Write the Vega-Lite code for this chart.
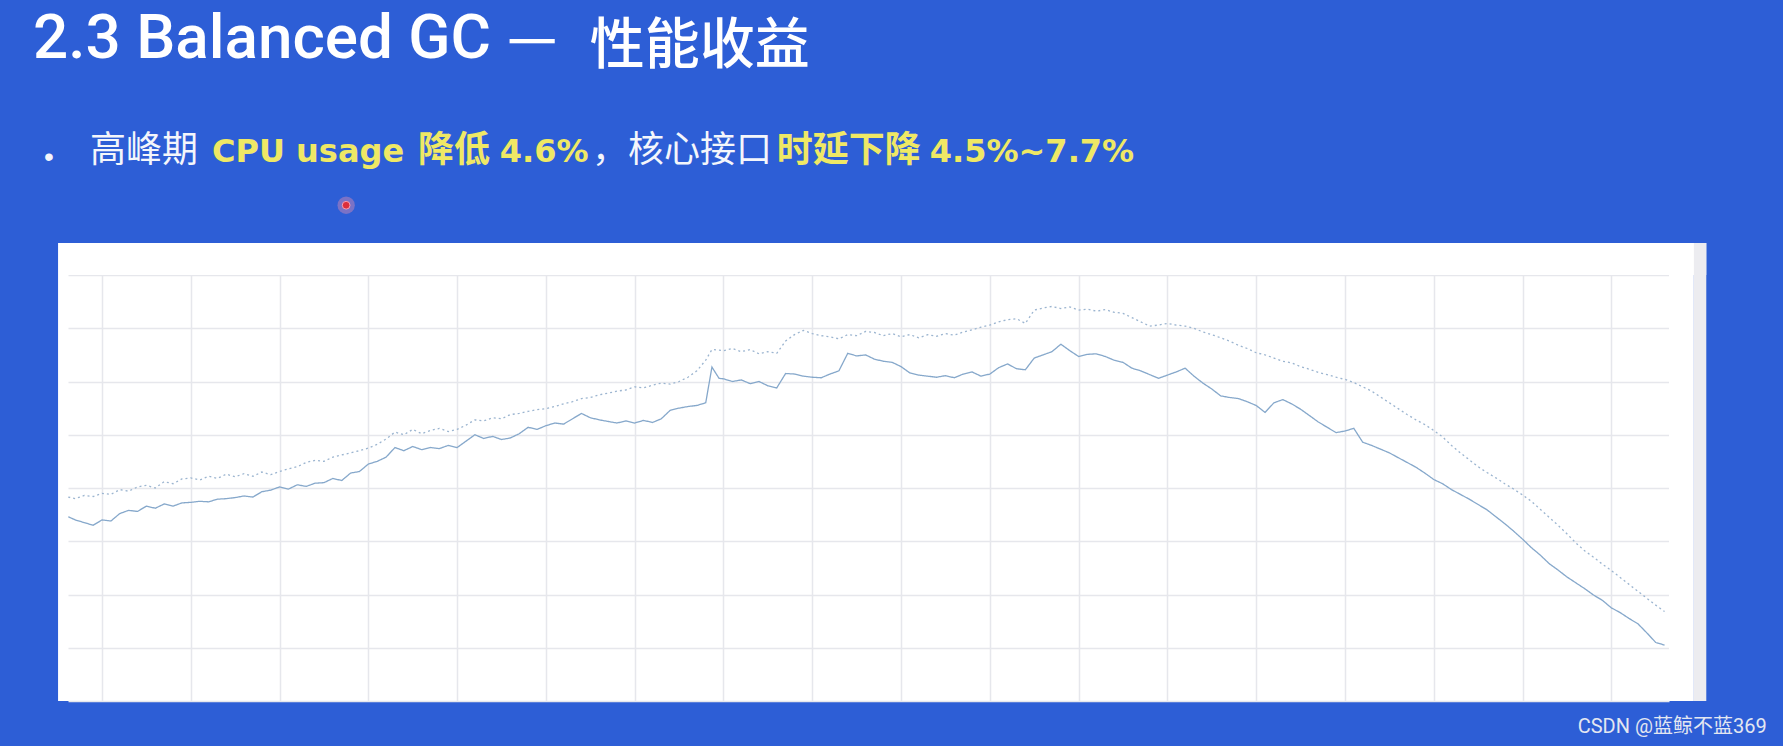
{
  "$schema": "https://vega.github.io/schema/vega-lite/v6.json",
  "width": 1601,
  "height": 426,
  "autosize": {"type": "none"},
  "padding": {"left": 68, "top": 275, "right": 114, "bottom": 45},
  "background": "#2d5ed6",
  "config": {
    "view": {"stroke": null, "fill": "#ffffff"},
    "font": "Liberation Sans, Noto Sans CJK SC",
    "axis": {"grid": true, "gridColor": "#e6e7ec", "gridWidth": 1.5, "labels": false, "ticks": false, "domain": false}
  },
  "data": {"values": [{}]},
  "layer": [
    {
      "mark": {"type": "rect", "fill": "#ffffff"},
      "encoding": {
        "x": {"datum": -0.495, "type": "quantitative", "scale": {"domain": [-0.383, 17.65], "nice": false, "zero": false}},
        "x2": {"datum": 18.07},
        "y": {"datum": 8.6, "type": "quantitative", "scale": {"domain": [0, 8], "nice": false, "zero": false}},
        "y2": {"datum": 8}
      }
    },
    {
      "mark": {"type": "rect", "fill": "#ffffff"},
      "encoding": {
        "x": {"datum": -0.495, "type": "quantitative"},
        "x2": {"datum": -0.383},
        "y": {"datum": 8, "type": "quantitative"},
        "y2": {"datum": 0}
      }
    },
    {
      "mark": {"type": "rect", "fill": "#ffffff"},
      "encoding": {
        "x": {"datum": 17.65, "type": "quantitative"},
        "x2": {"datum": 17.93},
        "y": {"datum": 8, "type": "quantitative"},
        "y2": {"datum": 0}
      }
    },
    {
      "mark": {"type": "rect", "fill": "#ececf0"},
      "encoding": {
        "x": {"datum": 17.93, "type": "quantitative"},
        "x2": {"datum": 18.07},
        "y": {"datum": 8.6, "type": "quantitative"},
        "y2": {"datum": 0}
      }
    },
    {
      "data": {"values": [
        {"t": -0.38, "line1": 3.46, "line2": 3.83},
        {"t": -0.3, "line1": 3.40, "line2": 3.80},
        {"t": -0.2, "line1": 3.35, "line2": 3.86},
        {"t": -0.1, "line1": 3.30, "line2": 3.84},
        {"t": 0.0, "line1": 3.40, "line2": 3.90},
        {"t": 0.1, "line1": 3.38, "line2": 3.88},
        {"t": 0.2, "line1": 3.52, "line2": 3.97},
        {"t": 0.3, "line1": 3.58, "line2": 3.94},
        {"t": 0.4, "line1": 3.56, "line2": 4.02},
        {"t": 0.5, "line1": 3.66, "line2": 4.05},
        {"t": 0.6, "line1": 3.62, "line2": 4.00},
        {"t": 0.7, "line1": 3.70, "line2": 4.12},
        {"t": 0.8, "line1": 3.66, "line2": 4.08},
        {"t": 0.9, "line1": 3.72, "line2": 4.17},
        {"t": 1.0, "line1": 3.73, "line2": 4.19},
        {"t": 1.1, "line1": 3.75, "line2": 4.15},
        {"t": 1.2, "line1": 3.74, "line2": 4.22},
        {"t": 1.3, "line1": 3.79, "line2": 4.18},
        {"t": 1.4, "line1": 3.80, "line2": 4.26},
        {"t": 1.5, "line1": 3.82, "line2": 4.21},
        {"t": 1.6, "line1": 3.85, "line2": 4.27},
        {"t": 1.7, "line1": 3.83, "line2": 4.22},
        {"t": 1.8, "line1": 3.93, "line2": 4.30},
        {"t": 1.9, "line1": 3.96, "line2": 4.25},
        {"t": 2.0, "line1": 4.02, "line2": 4.31},
        {"t": 2.1, "line1": 3.98, "line2": 4.36},
        {"t": 2.2, "line1": 4.06, "line2": 4.40},
        {"t": 2.3, "line1": 4.03, "line2": 4.48},
        {"t": 2.4, "line1": 4.09, "line2": 4.52},
        {"t": 2.5, "line1": 4.10, "line2": 4.50},
        {"t": 2.6, "line1": 4.18, "line2": 4.58},
        {"t": 2.7, "line1": 4.14, "line2": 4.62},
        {"t": 2.8, "line1": 4.28, "line2": 4.66},
        {"t": 2.9, "line1": 4.31, "line2": 4.70},
        {"t": 3.0, "line1": 4.45, "line2": 4.75},
        {"t": 3.1, "line1": 4.50, "line2": 4.82},
        {"t": 3.2, "line1": 4.58, "line2": 4.92},
        {"t": 3.3, "line1": 4.76, "line2": 5.05},
        {"t": 3.4, "line1": 4.70, "line2": 5.00},
        {"t": 3.5, "line1": 4.78, "line2": 5.10},
        {"t": 3.6, "line1": 4.72, "line2": 5.02},
        {"t": 3.7, "line1": 4.76, "line2": 5.08},
        {"t": 3.8, "line1": 4.74, "line2": 5.12},
        {"t": 3.9, "line1": 4.80, "line2": 5.06},
        {"t": 4.0, "line1": 4.76, "line2": 5.10},
        {"t": 4.1, "line1": 4.88, "line2": 5.18},
        {"t": 4.2, "line1": 5.00, "line2": 5.28},
        {"t": 4.3, "line1": 4.93, "line2": 5.26},
        {"t": 4.4, "line1": 4.97, "line2": 5.32},
        {"t": 4.5, "line1": 4.91, "line2": 5.30},
        {"t": 4.6, "line1": 4.94, "line2": 5.38},
        {"t": 4.7, "line1": 5.02, "line2": 5.40},
        {"t": 4.8, "line1": 5.14, "line2": 5.44},
        {"t": 4.9, "line1": 5.10, "line2": 5.47},
        {"t": 5.0, "line1": 5.17, "line2": 5.49},
        {"t": 5.1, "line1": 5.22, "line2": 5.53},
        {"t": 5.2, "line1": 5.20, "line2": 5.58},
        {"t": 5.3, "line1": 5.30, "line2": 5.62},
        {"t": 5.4, "line1": 5.40, "line2": 5.68},
        {"t": 5.5, "line1": 5.32, "line2": 5.70},
        {"t": 5.6, "line1": 5.28, "line2": 5.75},
        {"t": 5.7, "line1": 5.25, "line2": 5.78},
        {"t": 5.8, "line1": 5.22, "line2": 5.82},
        {"t": 5.9, "line1": 5.26, "line2": 5.84},
        {"t": 6.0, "line1": 5.22, "line2": 5.90},
        {"t": 6.1, "line1": 5.27, "line2": 5.88},
        {"t": 6.2, "line1": 5.23, "line2": 5.93},
        {"t": 6.3, "line1": 5.30, "line2": 5.97},
        {"t": 6.4, "line1": 5.46, "line2": 5.95},
        {"t": 6.5, "line1": 5.50, "line2": 6.00},
        {"t": 6.6, "line1": 5.53, "line2": 6.08},
        {"t": 6.7, "line1": 5.55, "line2": 6.20},
        {"t": 6.8, "line1": 5.60, "line2": 6.40},
        {"t": 6.87, "line1": 6.27, "line2": 6.60},
        {"t": 6.95, "line1": 6.06, "line2": 6.59},
        {"t": 7.0, "line1": 6.05, "line2": 6.58},
        {"t": 7.1, "line1": 6.00, "line2": 6.62},
        {"t": 7.2, "line1": 6.03, "line2": 6.56},
        {"t": 7.3, "line1": 5.96, "line2": 6.60},
        {"t": 7.4, "line1": 6.00, "line2": 6.52},
        {"t": 7.5, "line1": 5.92, "line2": 6.56},
        {"t": 7.6, "line1": 5.88, "line2": 6.53},
        {"t": 7.7, "line1": 6.15, "line2": 6.76},
        {"t": 7.8, "line1": 6.14, "line2": 6.88},
        {"t": 7.9, "line1": 6.10, "line2": 6.96},
        {"t": 8.0, "line1": 6.08, "line2": 6.90},
        {"t": 8.1, "line1": 6.07, "line2": 6.86},
        {"t": 8.2, "line1": 6.14, "line2": 6.84},
        {"t": 8.3, "line1": 6.20, "line2": 6.80},
        {"t": 8.4, "line1": 6.53, "line2": 6.88},
        {"t": 8.5, "line1": 6.48, "line2": 6.86},
        {"t": 8.6, "line1": 6.50, "line2": 6.94},
        {"t": 8.7, "line1": 6.42, "line2": 6.92},
        {"t": 8.8, "line1": 6.38, "line2": 6.86},
        {"t": 8.9, "line1": 6.36, "line2": 6.90},
        {"t": 9.0, "line1": 6.28, "line2": 6.84},
        {"t": 9.1, "line1": 6.16, "line2": 6.88},
        {"t": 9.2, "line1": 6.12, "line2": 6.82},
        {"t": 9.3, "line1": 6.10, "line2": 6.88},
        {"t": 9.4, "line1": 6.08, "line2": 6.85},
        {"t": 9.5, "line1": 6.11, "line2": 6.90},
        {"t": 9.6, "line1": 6.07, "line2": 6.87},
        {"t": 9.7, "line1": 6.14, "line2": 6.93},
        {"t": 9.8, "line1": 6.18, "line2": 6.97},
        {"t": 9.9, "line1": 6.10, "line2": 7.02},
        {"t": 10.0, "line1": 6.14, "line2": 7.06},
        {"t": 10.1, "line1": 6.26, "line2": 7.12},
        {"t": 10.2, "line1": 6.33, "line2": 7.16},
        {"t": 10.3, "line1": 6.24, "line2": 7.18},
        {"t": 10.4, "line1": 6.22, "line2": 7.09},
        {"t": 10.5, "line1": 6.44, "line2": 7.34},
        {"t": 10.6, "line1": 6.50, "line2": 7.38},
        {"t": 10.7, "line1": 6.56, "line2": 7.41},
        {"t": 10.8, "line1": 6.70, "line2": 7.37},
        {"t": 10.9, "line1": 6.58, "line2": 7.40},
        {"t": 11.0, "line1": 6.47, "line2": 7.34},
        {"t": 11.1, "line1": 6.51, "line2": 7.36},
        {"t": 11.2, "line1": 6.52, "line2": 7.32},
        {"t": 11.3, "line1": 6.47, "line2": 7.35},
        {"t": 11.4, "line1": 6.40, "line2": 7.30},
        {"t": 11.5, "line1": 6.36, "line2": 7.28},
        {"t": 11.6, "line1": 6.25, "line2": 7.20},
        {"t": 11.7, "line1": 6.20, "line2": 7.12},
        {"t": 11.8, "line1": 6.13, "line2": 7.04},
        {"t": 11.9, "line1": 6.06, "line2": 7.06},
        {"t": 12.0, "line1": 6.12, "line2": 7.09},
        {"t": 12.1, "line1": 6.18, "line2": 7.06},
        {"t": 12.2, "line1": 6.25, "line2": 7.04},
        {"t": 12.3, "line1": 6.10, "line2": 7.00},
        {"t": 12.4, "line1": 5.97, "line2": 6.93},
        {"t": 12.5, "line1": 5.86, "line2": 6.88},
        {"t": 12.6, "line1": 5.73, "line2": 6.82},
        {"t": 12.7, "line1": 5.70, "line2": 6.76},
        {"t": 12.8, "line1": 5.68, "line2": 6.68},
        {"t": 12.9, "line1": 5.62, "line2": 6.62},
        {"t": 13.0, "line1": 5.55, "line2": 6.54},
        {"t": 13.1, "line1": 5.42, "line2": 6.50},
        {"t": 13.2, "line1": 5.60, "line2": 6.44},
        {"t": 13.3, "line1": 5.66, "line2": 6.38},
        {"t": 13.4, "line1": 5.58, "line2": 6.35},
        {"t": 13.5, "line1": 5.48, "line2": 6.28},
        {"t": 13.6, "line1": 5.36, "line2": 6.23},
        {"t": 13.7, "line1": 5.24, "line2": 6.17},
        {"t": 13.8, "line1": 5.14, "line2": 6.13},
        {"t": 13.9, "line1": 5.04, "line2": 6.08},
        {"t": 14.0, "line1": 5.07, "line2": 6.04},
        {"t": 14.1, "line1": 5.12, "line2": 5.98},
        {"t": 14.2, "line1": 4.86, "line2": 5.90},
        {"t": 14.3, "line1": 4.80, "line2": 5.82},
        {"t": 14.4, "line1": 4.73, "line2": 5.71},
        {"t": 14.5, "line1": 4.66, "line2": 5.60},
        {"t": 14.6, "line1": 4.57, "line2": 5.49},
        {"t": 14.7, "line1": 4.48, "line2": 5.38},
        {"t": 14.8, "line1": 4.39, "line2": 5.28},
        {"t": 14.9, "line1": 4.28, "line2": 5.19},
        {"t": 15.0, "line1": 4.16, "line2": 5.08},
        {"t": 15.1, "line1": 4.08, "line2": 4.96},
        {"t": 15.2, "line1": 3.97, "line2": 4.80},
        {"t": 15.3, "line1": 3.88, "line2": 4.66},
        {"t": 15.4, "line1": 3.79, "line2": 4.53},
        {"t": 15.5, "line1": 3.69, "line2": 4.40},
        {"t": 15.6, "line1": 3.59, "line2": 4.29},
        {"t": 15.7, "line1": 3.46, "line2": 4.19},
        {"t": 15.8, "line1": 3.33, "line2": 4.08},
        {"t": 15.9, "line1": 3.19, "line2": 3.98},
        {"t": 16.0, "line1": 3.04, "line2": 3.87},
        {"t": 16.1, "line1": 2.88, "line2": 3.75},
        {"t": 16.2, "line1": 2.74, "line2": 3.60},
        {"t": 16.3, "line1": 2.58, "line2": 3.45},
        {"t": 16.4, "line1": 2.46, "line2": 3.30},
        {"t": 16.5, "line1": 2.33, "line2": 3.14},
        {"t": 16.6, "line1": 2.22, "line2": 2.97},
        {"t": 16.7, "line1": 2.11, "line2": 2.82},
        {"t": 16.8, "line1": 1.99, "line2": 2.70},
        {"t": 16.9, "line1": 1.89, "line2": 2.57},
        {"t": 17.0, "line1": 1.75, "line2": 2.45},
        {"t": 17.1, "line1": 1.66, "line2": 2.32},
        {"t": 17.2, "line1": 1.55, "line2": 2.19},
        {"t": 17.3, "line1": 1.45, "line2": 2.06},
        {"t": 17.4, "line1": 1.28, "line2": 1.93},
        {"t": 17.5, "line1": 1.10, "line2": 1.80},
        {"t": 17.6, "line1": 1.05, "line2": 1.68}
      ]},
      "transform": [{"fold": ["line1", "line2"], "as": ["series", "v"]}],
      "mark": {"type": "line", "strokeWidth": 1.3},
      "encoding": {
        "x": {"field": "t", "type": "quantitative", "axis": {"values": [0,1,2,3,4,5,6,7,8,9,10,11,12,13,14,15,16,17], "title": null}},
        "y": {"field": "v", "type": "quantitative", "axis": {"values": [0,1,2,3,4,5,6,7,8], "title": null}},
        "color": {"field": "series", "type": "nominal", "scale": {"domain": ["line1", "line2"], "range": ["#86a8cb", "#9cb5d0"]}, "legend": null},
        "strokeDash": {"field": "series", "type": "nominal", "scale": {"domain": ["line1", "line2"], "range": [[1, 0], [2, 3]]}, "legend": null}
      }
    },
    {
      "mark": {"type": "text", "text": "2.3 Balanced GC", "align": "left", "baseline": "alphabetic", "font": "Roboto", "fontWeight": 500, "fontSize": 62, "color": "#ffffff"},
      "encoding": {
        "x": {"datum": -0.777, "type": "quantitative"},
        "y": {"datum": 12.075, "type": "quantitative"}
      }
    },
    {
      "mark": {"type": "text", "text": "—", "align": "left", "baseline": "alphabetic", "font": "Noto Sans CJK SC", "fontWeight": 500, "fontSize": 56, "color": "#ffffff"},
      "encoding": {
        "x": {"datum": 4.561, "type": "quantitative"},
        "y": {"datum": 12.1, "type": "quantitative"}
      }
    },
    {
      "mark": {"type": "text", "text": "性能收益", "align": "left", "baseline": "alphabetic", "font": "Noto Sans CJK SC", "fontWeight": 500, "fontSize": 55, "color": "#ffffff"},
      "encoding": {
        "x": {"datum": 5.495, "type": "quantitative"},
        "y": {"datum": 11.99, "type": "quantitative"}
      }
    },
    {
      "mark": {"type": "text", "text": "•", "align": "center", "baseline": "alphabetic", "fontSize": 28, "color": "#f4f6fb"},
      "encoding": {
        "x": {"datum": -0.597, "type": "quantitative"},
        "y": {"datum": 10.05, "type": "quantitative"}
      }
    },
    {
      "mark": {"type": "text", "text": "高峰期", "align": "left", "baseline": "alphabetic", "font": "Noto Sans CJK SC", "fontSize": 36, "color": "#f4f6fb"},
      "encoding": {
        "x": {"datum": -0.135, "type": "quantitative"},
        "y": {"datum": 10.12, "type": "quantitative"}
      }
    },
    {
      "mark": {"type": "text", "text": "CPU usage", "align": "left", "baseline": "alphabetic", "font": "DejaVu Sans", "fontWeight": "bold", "fontSize": 32, "color": "#efe865"},
      "encoding": {
        "x": {"datum": 1.239, "type": "quantitative"},
        "y": {"datum": 10.12, "type": "quantitative"}
      }
    },
    {
      "mark": {"type": "text", "text": "降低", "align": "left", "baseline": "alphabetic", "font": "Noto Sans CJK SC", "fontWeight": "bold", "fontSize": 36, "color": "#efe865"},
      "encoding": {
        "x": {"datum": 3.559, "type": "quantitative"},
        "y": {"datum": 10.12, "type": "quantitative"}
      }
    },
    {
      "mark": {"type": "text", "text": "4.6%", "align": "left", "baseline": "alphabetic", "font": "DejaVu Sans", "fontWeight": "bold", "fontSize": 32, "color": "#efe865"},
      "encoding": {
        "x": {"datum": 4.48, "type": "quantitative"},
        "y": {"datum": 10.12, "type": "quantitative"}
      }
    },
    {
      "mark": {"type": "text", "text": "，核心接口", "align": "left", "baseline": "alphabetic", "font": "Noto Sans CJK SC", "fontSize": 36, "color": "#f4f6fb"},
      "encoding": {
        "x": {"datum": 5.518, "type": "quantitative"},
        "y": {"datum": 10.12, "type": "quantitative"}
      }
    },
    {
      "mark": {"type": "text", "text": "时延下降", "align": "left", "baseline": "alphabetic", "font": "Noto Sans CJK SC", "fontWeight": "bold", "fontSize": 36, "color": "#efe865"},
      "encoding": {
        "x": {"datum": 7.6, "type": "quantitative"},
        "y": {"datum": 10.12, "type": "quantitative"}
      }
    },
    {
      "mark": {"type": "text", "text": "4.5%~7.7%", "align": "left", "baseline": "alphabetic", "font": "DejaVu Sans", "fontWeight": "bold", "fontSize": 32, "color": "#efe865"},
      "encoding": {
        "x": {"datum": 9.324, "type": "quantitative"},
        "y": {"datum": 10.12, "type": "quantitative"}
      }
    },
    {
      "mark": {"type": "point", "filled": true, "fill": "#ee90b0", "opacity": 0.4, "size": 300},
      "encoding": {
        "x": {"datum": 2.75, "type": "quantitative"},
        "y": {"datum": 9.31, "type": "quantitative"}
      }
    },
    {
      "mark": {"type": "point", "filled": true, "fill": "#dc2f3c", "stroke": "#f6a0b4", "strokeWidth": 1, "opacity": 1, "size": 60},
      "encoding": {
        "x": {"datum": 2.75, "type": "quantitative"},
        "y": {"datum": 9.31, "type": "quantitative"}
      }
    },
    {
      "mark": {"type": "text", "text": "CSDN @蓝鲸不蓝369", "align": "right", "baseline": "alphabetic", "font": "Roboto, Noto Sans CJK SC", "fontSize": 20, "color": "#e3e7f1"},
      "encoding": {
        "x": {"datum": 18.75, "type": "quantitative"},
        "y": {"datum": -0.6, "type": "quantitative"}
      }
    }
  ]
}
